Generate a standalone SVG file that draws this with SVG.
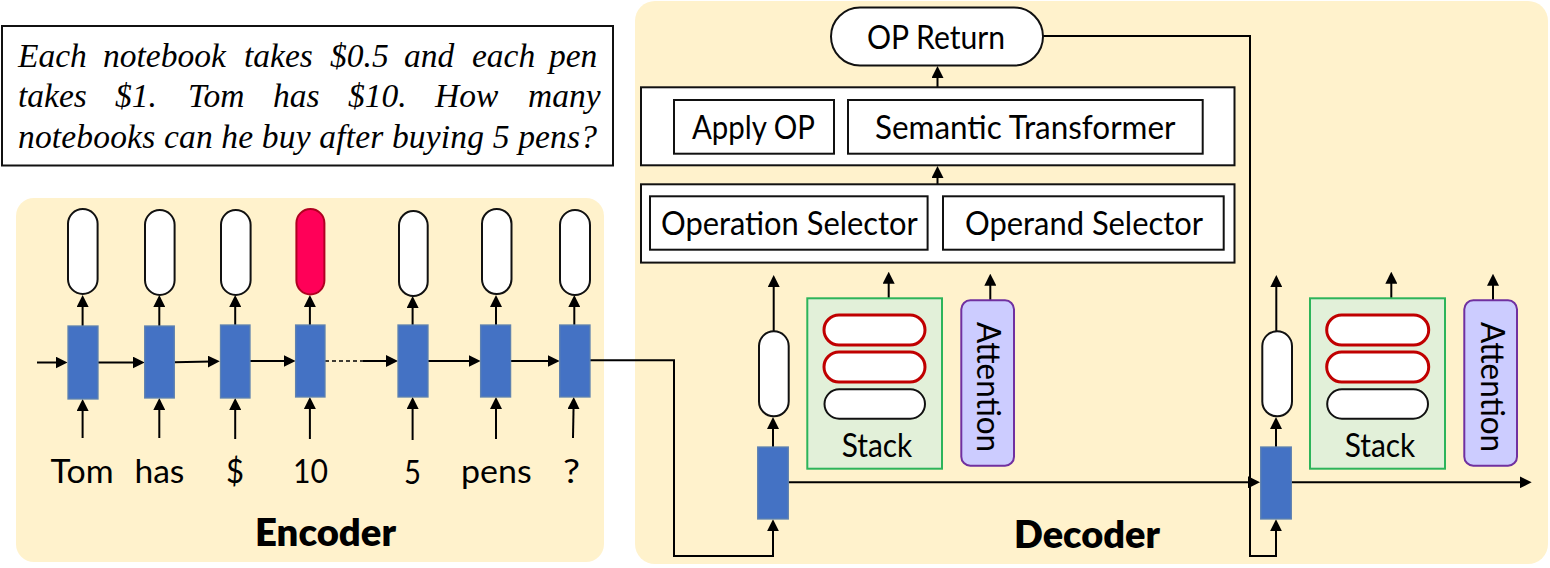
<svg xmlns="http://www.w3.org/2000/svg" width="1550" height="568" viewBox="0 0 1550 568">
<style>
.panel{fill:#FFF2CC}
.box{fill:#fff;stroke:#111;stroke-width:2}
.cell{fill:#4472C4;stroke:#5F82B0;stroke-width:1.3}
.pill{fill:#fff;stroke:#111;stroke-width:2}
.redpill{fill:#fff;stroke:#C00000;stroke-width:3}
.hot{fill:#FF0058;stroke:#B00020;stroke-width:2}
.stack{fill:#E2F0D9;stroke:#2DB45A;stroke-width:2}
.att{fill:#CCCCFF;stroke:#7030A0;stroke-width:2}
.c{fill:none;stroke:#000;stroke-width:2}
.a{marker-end:url(#h)}
text{font-family:"Lato","Open Sans","Liberation Sans",sans-serif;fill:#000;font-size:33px}
.b{font-weight:800;font-size:38px}
.q{font-family:"Liberation Serif","Times New Roman",serif;font-style:italic;font-size:33.500px}
</style>
<defs>
<marker id="h" markerUnits="userSpaceOnUse" markerWidth="12" markerHeight="12" viewBox="0 0 12 12" refX="4" refY="6" orient="auto"><path d="M0,0L12,6L0,12z" fill="#000"/></marker>
</defs>
<rect width="1550" height="568" fill="#fff"/>
<g id="encoder-panel"><rect class="panel" x="16" y="198" width="588" height="364" rx="18"/><text class="b" x="255" y="546" textLength="141" lengthAdjust="spacingAndGlyphs">Encoder</text></g>
<g id="decoder-panel"><rect class="panel" x="635" y="1" width="913" height="563" rx="20"/><text class="b" x="1014" y="548" textLength="146" lengthAdjust="spacingAndGlyphs">Decoder</text></g>
<g id="question">
<rect x="2" y="26" width="611" height="139.500" fill="#fff" stroke="#111" stroke-width="2"/>
<text class="q" y="67"><tspan x="18">Each</tspan><tspan x="103">notebook</tspan><tspan x="244">takes</tspan><tspan x="330">$0.5</tspan><tspan x="404">and</tspan><tspan x="472">each</tspan><tspan x="549">pen</tspan></text>
<text class="q" y="107"><tspan x="18">takes</tspan><tspan x="115">$1.</tspan><tspan x="188">Tom</tspan><tspan x="273">has</tspan><tspan x="348">$10.</tspan><tspan x="435">How</tspan><tspan x="528">many</tspan></text>
<text class="q" x="18" y="148" textLength="579">notebooks can he buy after buying 5 pens?</text>
</g>
<g id="connectors">
<path class="c a" d="M37,362.500H59.500"/><path class="c a" d="M98,362.500H136.700"/><path class="c a" d="M174,362.300L211.800,361.500"/><path class="c a" d="M250,361H287.600"/><path class="c" d="M325,361H363" stroke-dasharray="4 3" style="stroke-width:1.300"/><path class="c a" d="M363,361H390"/><path class="c a" d="M428,361H472.600"/><path class="c a" d="M510.700,361H551.700"/>
<path class="c a" d="M82.600,438V407"/><path class="c a" d="M159.300,438V406"/><path class="c a" d="M235.200,439V406"/><path class="c a" d="M309.900,439V405"/><path class="c a" d="M412.600,440V405"/><path class="c a" d="M496,439V405"/><path class="c a" d="M573,438L573.600,405"/>
<path class="c a" d="M82.600,326V303"/><path class="c a" d="M159.300,326V303"/><path class="c a" d="M235.200,325V303"/><path class="c a" d="M309.900,325V303"/><path class="c a" d="M412.600,325V304"/><path class="c a" d="M496,325V303"/><path class="c a" d="M574.300,325V303"/>
<path class="c a" d="M590,360.300H674V556H773V527.300"/>
<path class="c a" d="M773,447V425"/><path class="c a" d="M773.700,331V283"/><path class="c a" d="M888.700,298V279.700"/><path class="c a" d="M990.300,300V281.700"/>
<path class="c a" d="M788,482.300H1252"/>
<path class="c a" d="M1043,36H1250V556H1276V527.300"/>
<path class="c a" d="M1276,447V425"/><path class="c a" d="M1276.300,331V283"/><path class="c a" d="M1391.300,298V279.700"/><path class="c a" d="M1493,300V281.700"/>
<path class="c a" d="M1291,482.300H1523.700"/>
<path class="c a" d="M937.500,87V74"/><path class="c a" d="M937.500,184V174"/>
</g>
<g id="op-return"><rect class="pill" x="831" y="7.500" width="212" height="58" rx="29"/><text x="867" y="48.500" textLength="138" lengthAdjust="spacingAndGlyphs">OP Return</text></g>
<g id="apply-block">
<rect class="box" x="641" y="87.300" width="593.500" height="78"/>
<rect class="box" x="674" y="100" width="160" height="53.700"/><text x="692" y="138.500" textLength="123" lengthAdjust="spacingAndGlyphs">Apply OP</text>
<rect class="box" x="848" y="100" width="354.700" height="53.700"/><text x="875" y="138.500" textLength="300.500" lengthAdjust="spacingAndGlyphs">Semantic Transformer</text>
</g>
<g id="selector-block">
<rect class="box" x="641" y="184.300" width="593.500" height="78.300"/>
<rect class="box" x="650" y="196.300" width="277.600" height="53.400"/><text x="661" y="235" textLength="256.700" lengthAdjust="spacingAndGlyphs">Operation Selector</text>
<rect class="box" x="943" y="196.300" width="280.700" height="53.400"/><text x="965" y="235" textLength="238" lengthAdjust="spacingAndGlyphs">Operand Selector</text>
</g>
<g id="enc-tom"><rect class="pill" x="68" y="209" width="29.600" height="85" rx="14.800"/><rect class="cell" x="68" y="326" width="30" height="73"/><text x="50.600" y="483" textLength="63" lengthAdjust="spacingAndGlyphs">Tom</text></g>
<g id="enc-has"><rect class="pill" x="145" y="210" width="29.600" height="85" rx="14.800"/><rect class="cell" x="144.700" y="326" width="29.600" height="72"/><text x="134.400" y="483" textLength="50" lengthAdjust="spacingAndGlyphs">has</text></g>
<g id="enc-dollar"><rect class="pill" x="221" y="210" width="29.600" height="85" rx="14.800"/><rect class="cell" x="220.500" y="325" width="29.500" height="73"/><text x="226" y="483" textLength="18" lengthAdjust="spacingAndGlyphs">$</text></g>
<g id="enc-10"><rect class="hot" x="296.400" y="209" width="28" height="85.500" rx="14"/><rect class="cell" x="295.600" y="325" width="29.400" height="72"/><text x="293" y="483" textLength="35" lengthAdjust="spacingAndGlyphs">10</text></g>
<g id="enc-5"><rect class="pill" x="399" y="211" width="28.700" height="85" rx="14.300"/><rect class="cell" x="398" y="325" width="30" height="72"/><text x="404" y="484" textLength="17" lengthAdjust="spacingAndGlyphs">5</text></g>
<g id="enc-pens"><rect class="pill" x="482" y="209" width="29.500" height="85" rx="14.700"/><rect class="cell" x="480.600" y="325" width="30" height="72"/><text x="461" y="483" textLength="70.600" lengthAdjust="spacingAndGlyphs">pens</text></g>
<g id="enc-q"><rect class="pill" x="560" y="210" width="30" height="85" rx="15"/><rect class="cell" x="559.700" y="325" width="30.300" height="72"/><text x="563" y="483" textLength="17" lengthAdjust="spacingAndGlyphs">?</text></g>
<g id="dec-1">
<rect class="pill" x="759" y="331.300" width="29.700" height="85" rx="14.800"/><rect class="cell" x="757.700" y="447" width="30.600" height="72"/>
<rect class="stack" x="807.300" y="298.300" width="134.700" height="170.400"/>
<rect class="redpill" x="824" y="315" width="101" height="30" rx="15"/><rect class="redpill" x="824" y="352" width="101" height="30" rx="15"/><rect class="pill" x="824.500" y="389.300" width="100.500" height="29.400" rx="14.700"/>
<text x="841.700" y="457" textLength="70.600" lengthAdjust="spacingAndGlyphs">Stack</text>
<rect class="att" x="961.300" y="300.300" width="52.700" height="165.400" rx="9"/><text transform="translate(977.300 322) rotate(90)" textLength="130" lengthAdjust="spacingAndGlyphs">Attention</text>
</g>
<g id="dec-2">
<rect class="pill" x="1262.300" y="331.300" width="29.700" height="85" rx="14.800"/><rect class="cell" x="1260.700" y="447" width="30.600" height="72"/>
<rect class="stack" x="1310" y="298.300" width="135" height="170.400"/>
<rect class="redpill" x="1326.700" y="315" width="102" height="30" rx="15"/><rect class="redpill" x="1326.700" y="352" width="102" height="30" rx="15"/><rect class="pill" x="1327.200" y="389.300" width="100.800" height="29.400" rx="14.700"/>
<text x="1344.700" y="457" textLength="70.600" lengthAdjust="spacingAndGlyphs">Stack</text>
<rect class="att" x="1464.300" y="300.300" width="52.700" height="165.400" rx="9"/><text transform="translate(1480.700 322) rotate(90)" textLength="130" lengthAdjust="spacingAndGlyphs">Attention</text>
</g>
</svg>
